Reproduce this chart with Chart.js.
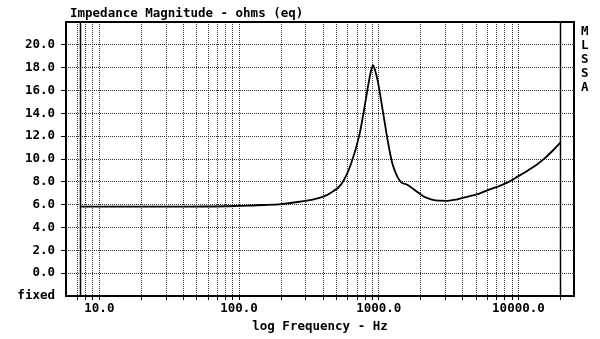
<!DOCTYPE html>
<html>
<head>
<meta charset="utf-8">
<script src="https://cdn.jsdelivr.net/npm/chart.js@4/dist/chart.umd.min.js"></script>
<style>
    html, body { margin: 0; padding: 0; background: #fff; }
    #wrap { width: 600px; height: 339px; }
</style>
</head>
<body>
<div id="wrap"><canvas id="impChart" width="600" height="339"></canvas></div>
<script>
// ─── DATA ───────────────────────────────────────────────────────
const freqHz = [7.3, 10, 20, 40, 60, 80, 100, 150, 200, 280, 330, 400, 455, 540, 630, 730, 790, 845, 880, 910,
    940, 985, 1070, 1160, 1240, 1300, 1380, 1450, 1600, 1800, 2100, 2400, 2700, 3100, 3600, 4400, 5200, 6100,
    7200, 8400, 10000, 11700, 13500, 15400, 17500, 20000];
const impedanceOhms = [5.82, 5.82, 5.82, 5.83, 5.84, 5.86, 5.9, 5.97, 6.05, 6.28, 6.42, 6.7, 7.05, 7.8, 9.5, 12.2, 14.5, 16.6, 17.7, 18.2,
    17.8, 16.8, 14.2, 11.6, 9.8, 9.0, 8.3, 7.95, 7.75, 7.3, 6.72, 6.45, 6.35, 6.34, 6.45, 6.72, 6.95, 7.3,
    7.6, 7.95, 8.5, 9.0, 9.5, 10.05, 10.7, 11.45];

// vertical grid positions (Hz) and the ones that get a label
const gridFreqs = [7, 8, 9, 10, 20, 30, 40, 50, 60, 70, 80, 90, 100, 200, 300, 400, 500, 600, 700, 800, 900,
    1000, 2000, 3000, 4000, 5000, 6000, 7000, 8000, 9000, 10000, 20000];
const decadeLabels = [10, 100, 1000, 10000];

// measurement range markers (Hz)
const rangeMarkers = [7.3, 20000];

const titleText = 'Impedance Magnitude - ohms (eq)';
const xTitleText = 'log Frequency - Hz';
const sideLetters = ['M', 'L', 'S', 'S', 'A'];

const FONT = '"DejaVu Sans Mono", "Liberation Mono", monospace';

// ─── EXTRAS: frame, range markers, title, side label ────────────
const extrasPlugin = {
    id: 'extras',
    beforeDatasetsDraw(chart) {
        const { ctx, chartArea, scales } = chart;
        ctx.save();
        ctx.strokeStyle = '#000';
        ctx.lineWidth = 1.5;
        rangeMarkers.forEach(f => {
            const x = Math.round(scales.x.getPixelForValue(f)) + 0.5;
            ctx.beginPath();
            ctx.moveTo(x, chartArea.top);
            ctx.lineTo(x, chartArea.bottom);
            ctx.stroke();
        });
        ctx.restore();
    },
    afterDraw(chart) {
        const { ctx, chartArea } = chart;
        ctx.save();
        ctx.strokeStyle = '#000';
        ctx.lineWidth = 2;
        ctx.strokeRect(chartArea.left, chartArea.top, chartArea.right - chartArea.left, chartArea.bottom - chartArea.top);

        ctx.fillStyle = '#000';
        ctx.font = 'bold 12.5px ' + FONT;
        ctx.textBaseline = 'middle';
        ctx.textAlign = 'left';
        ctx.fillText(titleText, chartArea.left + 4, 14);

        sideLetters.forEach((ch, i) => {
            ctx.fillText(ch, chartArea.right + 7, 32 + i * 14);
        });
        ctx.restore();
    }
};

const ctx = document.getElementById('impChart');

new Chart(ctx, {
    type: 'line',
    data: {
        datasets: [{
            data: freqHz.map((f, i) => ({ x: f, y: impedanceOhms[i] })),
            borderColor: '#000',
            borderWidth: 1.8,
            pointRadius: 0,
            cubicInterpolationMode: 'monotone',
            fill: false
        }]
    },
    options: {
        responsive: false,
        animation: false,
        events: [],
        layout: { padding: { top: 22, right: 26, left: 0, bottom: 0 } },
        plugins: {
            legend: { display: false },
            tooltip: { enabled: false }
        },
        scales: {
            x: {
                type: 'logarithmic',
                min: 5.77,
                max: 25000,
                afterBuildTicks: (scale) => {
                    scale.ticks = gridFreqs.map(v => ({ value: v }));
                },
                afterFit: (scale) => { scale.height = 43; },
                grid: {
                    color: '#333',
                    lineWidth: 1,
                    tickLength: 4,
                    tickColor: '#000'
                },
                border: { display: false, dash: [1, 1] },
                ticks: {
                    autoSkip: false,
                    maxRotation: 0,
                    padding: 1,
                    color: '#000',
                    font: { family: FONT, size: 12.5, weight: 'bold' },
                    callback: (v) => decadeLabels.includes(v) ? v.toFixed(1) : ''
                },
                title: {
                    display: true,
                    text: xTitleText,
                    color: '#000',
                    font: { family: FONT, size: 12.5, weight: 'bold' },
                    padding: { top: 2, bottom: 5 }
                }
            },
            y: {
                min: -2,
                max: 22,
                afterFit: (scale) => { scale.width = 66; },
                grid: {
                    color: '#333',
                    lineWidth: 1,
                    tickLength: 5,
                    tickColor: (c) => (c.tick && (c.tick.value < 0 || c.tick.value > 20)) ? 'rgba(0,0,0,0)' : '#000'
                },
                border: { display: false, dash: [1, 1] },
                ticks: {
                    stepSize: 2,
                    padding: 6,
                    color: '#000',
                    font: { family: FONT, size: 12.5, weight: 'bold' },
                    callback: (v) => v < 0 ? 'fixed' : (v > 20 ? '' : v.toFixed(1))
                }
            }
        }
    },
    plugins: [extrasPlugin]
});
</script>
</body>
</html>
